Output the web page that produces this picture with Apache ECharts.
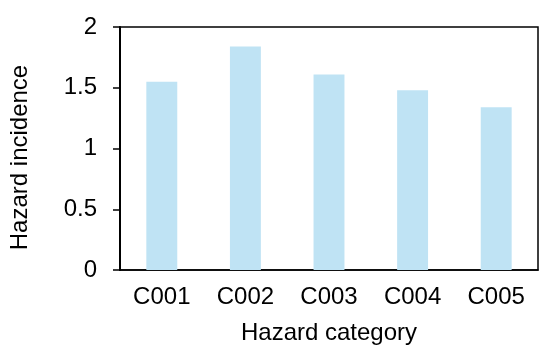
<!DOCTYPE html>
<html>
<head>
<meta charset="utf-8">
<script src="https://cdn.jsdelivr.net/npm/echarts@6/dist/echarts.min.js"></script>
<style>
html,body{margin:0;padding:0;background:#fff;}
#chart{width:550px;height:351px;}
</style>
</head>
<body>
<div id="chart"></div>
<script>
var categories = ['C001', 'C002', 'C003', 'C004', 'C005'];
var incidence = [1.55, 1.84, 1.61, 1.48, 1.34];
var yTicks = [0, 0.5, 1, 1.5, 2];

var chart = echarts.init(document.getElementById('chart'), null, {renderer: 'canvas'});
var font = 'Liberation Sans, Arial, sans-serif';
chart.setOption({
  animation: false,
  backgroundColor: '#ffffff',
  grid: {
    left: 119, right: 12, top: 27, bottom: 81,
    show: true, borderColor: '#000', borderWidth: 1.5, backgroundColor: 'transparent'
  },
  xAxis: {
    type: 'category',
    data: categories,
    name: 'Hazard category',
    nameLocation: 'middle',
    nameGap: 51,
    nameTextStyle: {fontFamily: font, fontSize: 24, color: '#000'},
    axisLine: {lineStyle: {color: '#000', width: 1.5}},
    axisTick: {show: false},
    axisLabel: {fontFamily: font, fontSize: 24, color: '#000', margin: 15}
  },
  yAxis: {
    type: 'value',
    min: yTicks[0],
    max: yTicks[yTicks.length - 1],
    interval: 0.5,
    name: 'Hazard incidence',
    nameLocation: 'middle',
    nameGap: 88,
    nameRotate: 90,
    nameTextStyle: {fontFamily: font, fontSize: 24, color: '#000', padding: [0, 18, 0, 0]},
    axisLine: {show: true, lineStyle: {color: '#000', width: 2}},
    axisTick: {show: true, inside: false, length: 7, lineStyle: {color: '#000', width: 1.5}},
    axisLabel: {fontFamily: font, fontSize: 24, color: '#000', margin: 23},
    splitLine: {show: false}
  },
  series: [{
    type: 'bar',
    data: incidence,
    barWidth: '37%',
    itemStyle: {color: '#bfe3f4'}
  }]
});
</script>
</body>
</html>
